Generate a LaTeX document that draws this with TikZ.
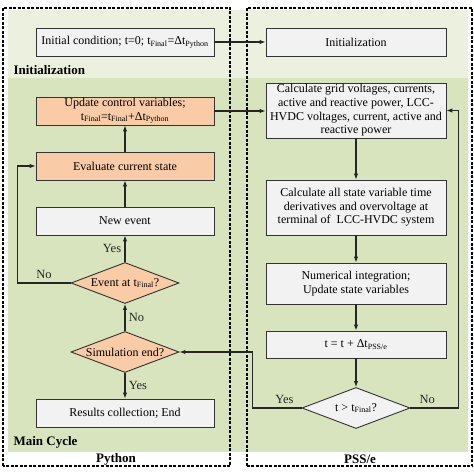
\documentclass[tikz,border=0pt]{standalone}
\usepackage{fontspec}
\setmainfont{Liberation Serif}
\usetikzlibrary{shapes.geometric,arrows.meta}
\definecolor{lightgreen}{HTML}{EBF1DE}
\definecolor{midgreen}{HTML}{D7E4BD}
\definecolor{peach}{HTML}{F9CBA7}
\definecolor{boxgray}{HTML}{F2F2F2}
\tikzstyle{proc}=[draw=black!80,line width=0.9pt,fill=boxgray,minimum height=28pt,
    align=center,inner sep=1pt,font=\fontsize{12}{13.6}\selectfont]
\tikzstyle{left proc}=[proc,minimum width=178pt]
\tikzstyle{right proc}=[proc,minimum width=180pt]
\tikzstyle{hot}=[fill=peach]
\tikzstyle{decision}=[diamond,aspect=2.6,draw=black!80,line width=0.9pt,fill=boxgray,
    minimum width=108pt,minimum height=41pt,inner sep=0pt,font=\fontsize{12}{13}\selectfont]
\tikzstyle{arr}=[-{Latex[length=6pt,width=4.5pt]},line width=1.1pt,black!85]
\tikzstyle{frame}=[line width=1.6pt,dash pattern=on 3pt off 1.5pt]
\tikzstyle{lbl}=[font=\fontsize{12.5}{14}\selectfont]
\tikzstyle{title}=[font=\bfseries\fontsize{13}{15}\selectfont]

\begin{document}
\begin{tikzpicture}[x=1pt,y=1pt]
  \useasboundingbox (0,0) rectangle (474,474);
  % backgrounds and frames
  \fill[lightgreen] (8,396) rectangle (468,464);
  \fill[midgreen] (8,22) rectangle (468,396);
  \draw[frame] (3,8) rectangle (230,466);
  \draw[frame] (247,8) rectangle (472,466);
  \node[title,anchor=west] (initlabel) at (10,404) {Initialization};
  \node[title,anchor=west] (mainlabel) at (10,32) {Main Cycle};
  \node[title] (pylabel) at (116,15) {Python};
  \node[title] (psslabel) at (360,15) {PSS/e};

  % Python side
  \node[left proc] (initcond) at (125,432) {Initial condition; t=0; t\textsubscript{Final}=Δt\textsubscript{Python}};
  \node[left proc,hot] (update) at (125,363) {Update control variables;\\t\textsubscript{Final}=t\textsubscript{Final}+Δt\textsubscript{Python}};
  \node[left proc,hot] (evaluate) at (125,308) {Evaluate current state};
  \node[left proc] (newevent) at (125,253) {New event};
  \node[decision,hot] (event) at (125,191) {Event at t\textsubscript{Final}?};
  \node[decision,hot] (simend) at (125,122) {Simulation end?};
  \node[left proc] (results) at (125,61) {Results collection; End};

  % PSS/e side
  \node[right proc] (init) at (356,432) {Initialization};
  \node[right proc,minimum height=55pt] (grid) at (356,363.5) {Calculate grid voltages, currents,\\active and reactive power, LCC-\\HVDC voltages, current, active and\\reactive power};
  \node[right proc,minimum height=55pt] (derivs) at (356,266.5) {Calculate all state variable time\\derivatives and overvoltage at\\terminal of~ LCC-HVDC system};
  \node[right proc,minimum height=41pt] (integ) at (356,190.5) {Numerical integration;\\Update state variables};
  \node[right proc,minimum height=27pt] (tstep) at (356,129.5) {t = t + Δt\textsubscript{PSS/e}};
  \node[decision] (check) at (356,66) {t > t\textsubscript{Final}?};

  % connectors
  \draw[arr] (initcond) -- (init);
  \draw[arr] (update.east) -- (update.east -| grid.west);
  \draw[arr] (evaluate) -- (update);
  \draw[arr] (newevent) -- (evaluate);
  \draw[arr] (event) -- node[lbl,left] {Yes} (newevent);
  \draw[arr] (simend) -- node[lbl,right] {No} (event);
  \draw[arr] (simend) -- node[lbl,right] {Yes} (results);
  \draw[arr] (event.west) -- node[lbl,above] {No} ++(-53,0) |- (evaluate.west);
  \draw[arr] (grid) -- (derivs);
  \draw[arr] (derivs) -- (integ);
  \draw[arr] (integ) -- (tstep);
  \draw[arr] (tstep) -- (check);
  \draw[arr] (check.west) -- node[lbl,above,pos=0.35] {Yes} ++(-49,0) |- (simend.east);
  \draw[arr] (check.east) -- node[lbl,above,pos=0.35] {No} ++(48,0) |- (grid.east);
\end{tikzpicture}
\end{document}
